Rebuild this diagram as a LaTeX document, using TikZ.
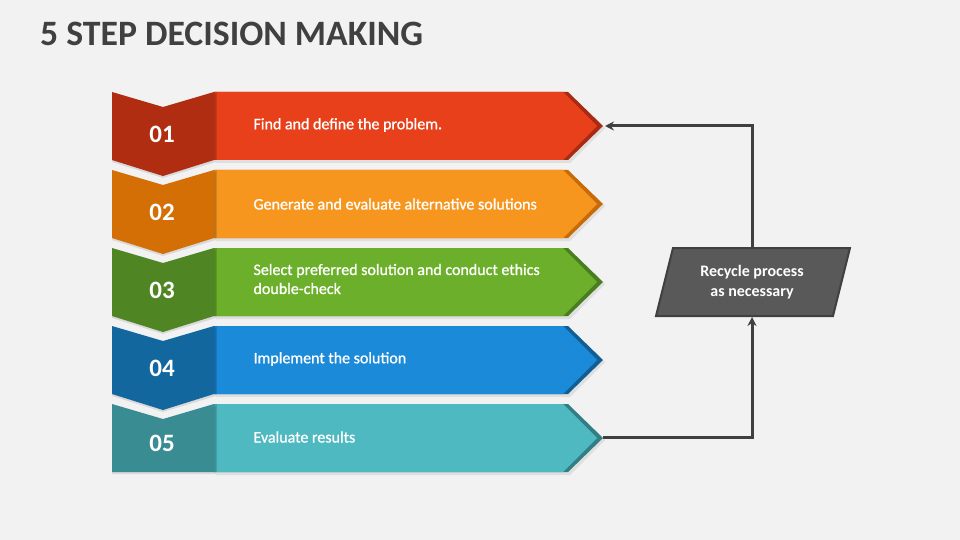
\documentclass[tikz,border=0pt]{standalone}
\usepackage{fontspec}
\setmainfont{Carlito}
\newfontfamily\medfont[FakeBold=1]{Carlito}
\usetikzlibrary{arrows.meta}
\definecolor{bg}{HTML}{F2F2F2}
\definecolor{ttl}{HTML}{404040}
\definecolor{barA}{HTML}{E8401A}\definecolor{blkA}{HTML}{B02D12}\definecolor{tipA}{HTML}{A82A10}
\definecolor{barB}{HTML}{F7961F}\definecolor{blkB}{HTML}{D46F06}\definecolor{tipB}{HTML}{C86A05}
\definecolor{barC}{HTML}{6CAF2B}\definecolor{blkC}{HTML}{4F8522}\definecolor{tipC}{HTML}{4A7D1F}
\definecolor{barD}{HTML}{1B8AD8}\definecolor{blkD}{HTML}{12679F}\definecolor{tipD}{HTML}{105F94}
\definecolor{barE}{HTML}{4EB9C1}\definecolor{blkE}{HTML}{388C92}\definecolor{tipE}{HTML}{317E84}
\definecolor{para}{HTML}{595959}
\tikzset{
  steptext/.style={anchor=west, text=white, font=\medfont\fontsize{16}{19}\selectfont, align=left},
  numtext/.style={text=white, font=\bfseries\fontsize{25}{28}\selectfont},
  conn/.style={draw=ttl, line width=3pt, -{Stealth[length=9pt,width=9pt]}},
}
\begin{document}
\begin{tikzpicture}[x=1pt,y=-1pt]
\fill[bg] (0,0) rectangle (960,540);
\useasboundingbox (0,0) rectangle (960,540);
\node[anchor=base west, text=ttl, font=\bfseries\fontsize{35.7}{40}\selectfont, inner sep=0] (title) at (40,46) {5 STEP DECISION MAKING};
% rows
\foreach \i/\bar/\blk/\tip in {0/barA/blkA/tipA, 1/barB/blkB/tipB, 2/barC/blkC/tipC, 3/barD/blkD/tipD, 4/barE/blkE/tipE}{
  \pgfmathsetmacro{\top}{92+78*\i}
  \pgfmathsetmacro{\bot}{\top+68}
  \pgfmathsetmacro{\mid}{\top+34}
  % soft shadow
  \fill[black, opacity=0.08] (216,\top+2) -- (570,\top+2) -- (605,\mid+2) -- (570,\bot+3) -- (216,\bot+3) -- cycle;
  % bar tip dark
  \fill[\tip] (214,\top) -- (568,\top) -- (603,\mid) -- (568,\bot) -- (214,\bot) -- cycle;
  \fill[\bar] (214,\top) -- (563,\top) -- (597,\mid) -- (563,\bot) -- (214,\bot) -- cycle;
  % left block
  \ifnum\i<4
    \fill[black, opacity=0.10] (112,\bot+2) -- (163,\bot+18) -- (216,\bot+2) -- (216,\top+2) -- (163,\top+17) -- (112,\top+2) -- cycle;
    \fill[\blk] (112,\top) -- (163,\top+15) -- (214,\top) -- (214,\bot) -- (163,\bot+16) -- (112,\bot) -- cycle;
  \else
    \fill[black, opacity=0.10] (112,\bot+2) -- (216,\bot+2) -- (216,\top+2) -- (163,\top+17) -- (112,\top+2) -- cycle;
    \fill[\blk] (112,\top) -- (163,\top+15) -- (214,\top) -- (214,\bot) -- (112,\bot) -- cycle;
  \fi
  \fill[black, opacity=0.12] (214,\top) rectangle (217,\bot);
}
% Numbers
\node[numtext] (n1) at (162,134) {01};
\node[numtext] (n2) at (162,212) {02};
\node[numtext] (n3) at (162,290) {03};
\node[numtext] (n4) at (162,368) {04};
\node[numtext] (n5) at (162,443) {05};
% texts
\node[steptext] (t1) at (250,125) {Find and define the problem.};
\node[steptext] (t2) at (250,204) {Generate and evaluate alternative solutions};
\node[steptext] (t3) at (250,279) {Select preferred solution and conduct ethics\\double-check};
\node[steptext] (t4) at (250,359) {Implement the solution};
\node[steptext] (t5) at (250,437) {Evaluate results};
% arrow tips as coordinates
\coordinate (tip1) at (605,126);
\coordinate (tip5) at (603,437);
% parallelogram
\fill[para, draw=ttl, line width=2pt] (673,248) -- (850,248) -- (833,316) -- (656,316) -- cycle;
\node[text=white, font=\bfseries\fontsize{16}{20}\selectfont, align=center] (rec) at (752,282) {Recycle process\\as necessary};
\coordinate (pb) at (752,317);
\coordinate (pt) at (752,247);
\coordinate (c1) at (752,437);
\coordinate (c2) at (752,126);
\draw[conn] (tip5) -- (c1) -- (pb);
\draw[conn] (pt) -- (c2) -- (tip1);
\end{tikzpicture}
\end{document}
